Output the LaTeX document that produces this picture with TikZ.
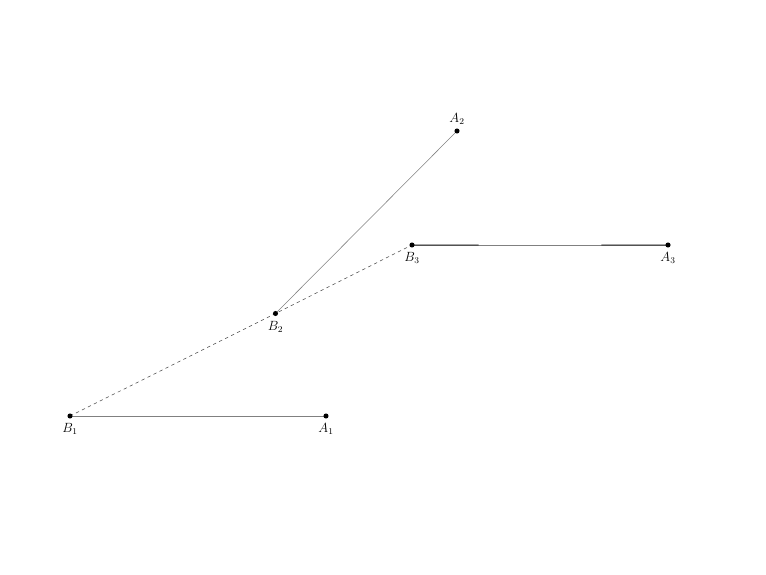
\documentclass[tikz,border=0pt]{standalone}
\usetikzlibrary{calc}
\begin{document}
\begin{tikzpicture}[x=0.9pt,y=-0.9pt,
  pt/.style={circle,fill=black,inner sep=0pt,minimum size=4.6pt},
  lbl/.style={inner sep=1.5pt,font=\large},
  seg/.style={draw=black!50,line width=0.5pt},
  blk/.style={draw=black,line width=0.6pt},
  dsh/.style={draw=black!70,dashed,line width=0.5pt}]
\useasboundingbox (0,0) rectangle (766,575);
\coordinate (B1) at (70,416);
\coordinate (A1) at (326,416);
\coordinate (B2) at (275.5,313.5);
\coordinate (A2) at (457,131);
\coordinate (B3) at (412,245);
\coordinate (A3) at (668,245);
\coordinate (M1) at ($(B3)!0.26!(A3)$);
\coordinate (M2) at ($(B3)!0.74!(A3)$);
\path[seg] (B1) -- (A1);
\path[seg] (B2) -- (A2);
\path[seg] (B3) -- (A3);
\path[blk] (B3) -- (M1);
\path[blk] (M2) -- (A3);
\path[dsh] (B1) -- (B2) -- (B3);
\node[pt] (pB1) at (B1) {};
\node[pt] (pA1) at (A1) {};
\node[pt] (pB2) at (B2) {};
\node[pt] (pA2) at (A2) {};
\node[pt] (pB3) at (B3) {};
\node[pt] (pA3) at (A3) {};
\node[lbl,anchor=north] (lB1) at ([yshift=-2.5pt]pB1.south) {$B_1$};
\node[lbl,anchor=north] (lA1) at ([yshift=-2.5pt]pA1.south) {$A_1$};
\node[lbl,anchor=north] (lB2) at ([yshift=-2.5pt]pB2.south) {$B_2$};
\node[lbl,anchor=south] (lA2) at ([yshift=1.5pt]pA2.north) {$A_2$};
\node[lbl,anchor=north] (lB3) at ([yshift=-2.5pt]pB3.south) {$B_3$};
\node[lbl,anchor=north] (lA3) at ([yshift=-2.5pt]pA3.south) {$A_3$};
\end{tikzpicture}
\end{document}
